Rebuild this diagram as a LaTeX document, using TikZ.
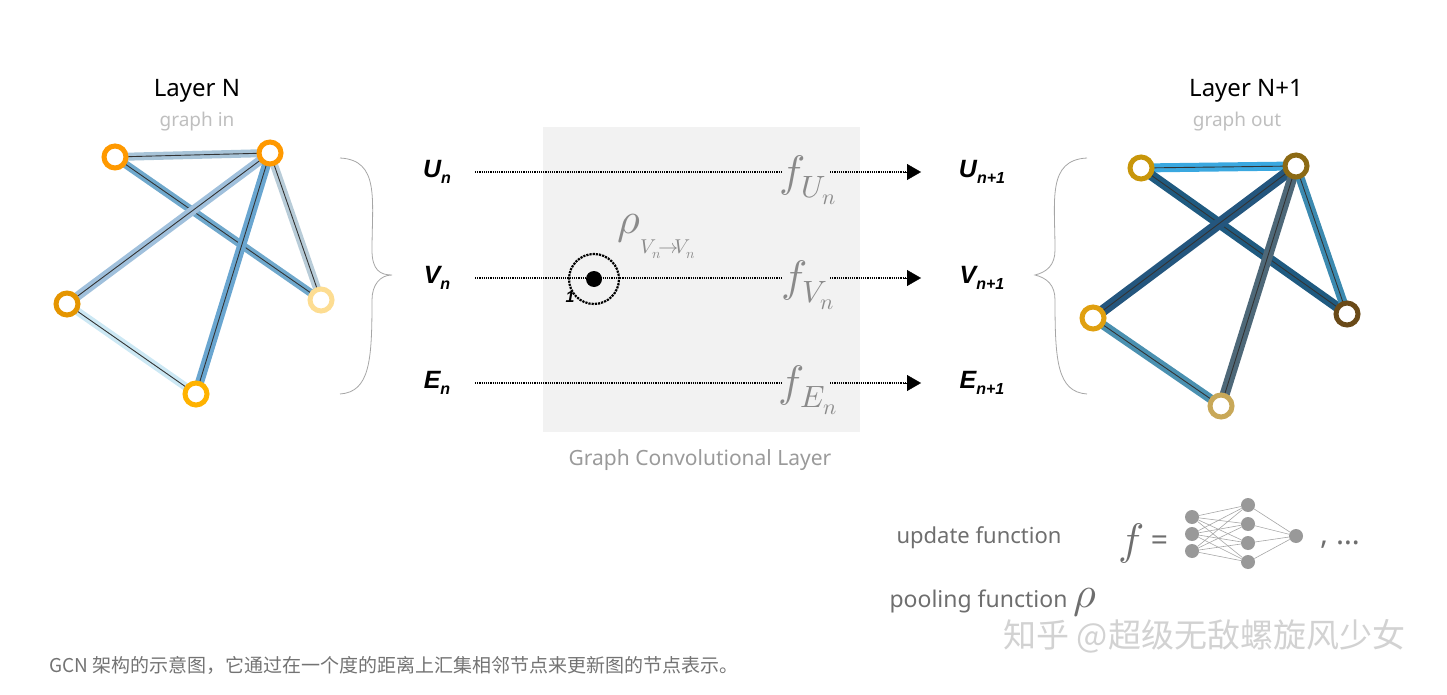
\documentclass[tikz,border=0pt]{standalone}
\usepackage{fontspec}
\usepackage{unicode-math}
\setmathfont{Latin Modern Math}
\setmainfont{Noto Sans}
\newfontfamily\cjk{Noto Sans CJK SC}
\newfontfamily\lsans{Liberation Sans}
\usetikzlibrary{arrows.meta}
\definecolor{gtxt}{HTML}{9A9A9A}
\definecolor{ftxt}{HTML}{8A8A8A}
\newcommand{\lbl}[2]{#1\raisebox{-6pt}{\fontsize{16}{16}\selectfont #2}}
\begin{document}
\begin{tikzpicture}[x=1pt,y=-1pt,
  gnode/.style={circle,draw=#1,line width=5pt,fill=white,minimum size=22pt,inner sep=0},
  thin/.style={line width=0.9pt,draw=black!80},
  dotl/.style={densely dotted,line width=1.2pt},
  tri/.style={-{Triangle[length=14pt,width=16pt]}},
  lab/.style={font=\lsans\fontsize{25}{26}\selectfont\bfseries\itshape},
  ff/.style={text=ftxt,font=\fontsize{44}{44}\selectfont},
  nn/.style={circle,fill=gray!80,minimum size=14pt,inner sep=0}]
\useasboundingbox (0,0) rectangle (1447,695);
\fill[black!5] (543,127) rectangle (860,432);
\node[text=gtxt,font=\fontsize{21}{22}\selectfont] (gcl) at (700,460) {Graph Convolutional Layer};
% left graph
\coordinate (la) at (115,157); \coordinate (lb) at (270,153); \coordinate (lc) at (67,304);
\coordinate (ld) at (196,394); \coordinate (le) at (321,300);
\foreach \p/\q/\c/\w in {la/lb/A8C4D8/8,la/le/6FA8CC/8,lb/lc/A0C0DC/9,lb/ld/6AA6D0/9,lb/le/B8CCD8/8,lc/ld/CCE8F4/8}
  {\definecolor{ec}{HTML}{\c}\draw[line width=\w pt,draw=ec] (\p)--(\q); \draw[thin] (\p)--(\q);}
\node[gnode={orange!80!yellow}] (LA) at (la) {};
\node[gnode={orange!80!yellow}] (LB) at (lb) {};
\node[gnode={orange!70!yellow!90!black}] (LC) at (lc) {};
\node[gnode={orange!60!yellow}] (LD) at (ld) {};
\node[gnode={yellow!40!orange!40}] (LE) at (le) {};
\node[font=\fontsize{24}{26}\selectfont] (ln) at (197,91) {Layer N};
\node[text=gray!50,font=\fontsize{19}{20}\selectfont] (gi) at (197,122) {graph in};
% right graph
\coordinate (ra) at (1141,168); \coordinate (rb) at (1296,166); \coordinate (rc) at (1093,318);
\coordinate (rd) at (1221,406); \coordinate (re) at (1347,314);
\foreach \p/\q/\c/\w in {ra/rb/3AA8E0/9,ra/re/1F5A80/10,rb/rc/24567E/11,rb/rd/4E6878/10,rb/re/3C8AB0/9,rc/rd/4A90B0/9}
  {\definecolor{ec}{HTML}{\c}\draw[line width=\w pt,draw=ec] (\p)--(\q); \draw[thin] (\p)--(\q);}
\definecolor{n1}{HTML}{C8960A}\definecolor{n2}{HTML}{8C6A14}\definecolor{n3}{HTML}{E0A010}
\definecolor{n4}{HTML}{C8A858}\definecolor{n5}{HTML}{6A4A18}
\node[gnode=n1] (RA) at (ra) {};
\node[gnode=n2] (RB) at (rb) {};
\node[gnode=n3] (RC) at (rc) {};
\node[gnode=n4] (RD) at (rd) {};
\node[gnode=n5] (RE) at (re) {};
\node[font=\fontsize{24}{26}\selectfont] (ln1) at (1246,91) {Layer N+1};
\node[text=gray!50,font=\fontsize{19}{20}\selectfont] (go) at (1237,122) {graph out};
% braces
\draw[gray!70,line width=0.8pt] (340,158) .. controls (380,160) and (372,200) .. (372,250) .. controls (372,270) and (380,275) .. (392,275)
  .. controls (380,275) and (372,285) .. (372,300) .. controls (372,360) and (370,392) .. (340,394);
\draw[gray!70,line width=0.8pt] (1087,158) .. controls (1047,160) and (1055,200) .. (1055,250) .. controls (1055,265) and (1047,272) .. (1035,275)
  .. controls (1047,278) and (1055,285) .. (1055,300) .. controls (1055,360) and (1057,392) .. (1087,394);
% labels
\node[lab] (U) at (437,172) {\lbl{U}{n}};
\node[lab] (V) at (437,278) {\lbl{V}{n}};
\node[lab] (E) at (437,383) {\lbl{E}{n}};
\node[lab] (U1) at (982,172) {\lbl{U}{n+1}};
\node[lab] (V1) at (982,278) {\lbl{V}{n+1}};
\node[lab] (E1) at (982,383) {\lbl{E}{n+1}};
\node[ff] (fU) at (808,180) {$f_{U_n}$};
\node[ff] (fV) at (808,285) {$f_{V_n}$};
\node[ff] (fE) at (808,390) {$f_{E_n}$};
\foreach \a in {U,V,E} \draw[dotl] (475,0 |- \a) -- (782,0 |- \a);
\foreach \a in {U1,V1,E1} {\draw[dotl] (830,0 |- \a) -- (905,0 |- \a); \draw[tri] (903,0 |- \a) -- (921,0 |- \a);}
% pooling
\node[circle,fill=black,minimum size=16pt,inner sep=0] (pd) at (594,279) {};
\draw[densely dotted,line width=2.2pt] (pd) circle (25pt);
\node[font=\lsans\bfseries\itshape\fontsize{16}{16}\selectfont] (one) at (570,297) {1};
\node[ff,anchor=west] (rho) at (614,236) {$\rho$\raisebox{-20pt}{\fontsize{20}{20}\selectfont$V_{n}{\mkern-3mu\to\mkern-3mu}V_{n}$}};
% legend
\node[text=ftxt!80!black,font=\fontsize{22}{24}\selectfont,anchor=west] (uf) at (893,538) {update function};
\node[text=ftxt!80!black,font=\fontsize{44}{44}\selectfont] (feq) at (1143,543) {$f\,$\raisebox{4pt}{\fontsize{30}{30}\selectfont\textbf{=}}};
\foreach \i/\y in {1/517,2/534,3/551} \node[nn] (i\i) at (1192,\y) {};
\foreach \i/\y in {1/505,2/524,3/543,4/562} \node[nn] (h\i) at (1248,\y) {};
\node[nn] (o) at (1296,536) {};
\foreach \i in {1,2,3} \foreach \j in {1,2,3,4} \draw[gray!70,line width=0.6pt] (i\i)--(h\j);
\foreach \j in {1,2,3,4} \draw[gray!70,line width=0.6pt] (h\j)--(o);
\node[text=ftxt!80!black,font=\fontsize{30}{30}\selectfont] (dots) at (1340,545) {, \dots};
\node[text=ftxt!80!black,font=\fontsize{23}{24}\selectfont,anchor=west] (pf) at (886,603) {pooling function {\fontsize{44}{44}\selectfont$\rho$}};
% watermark and caption
\node[text=gray!35,font=\cjk\fontsize{33}{34}\selectfont,anchor=west] (wm) at (1000,636) {知乎 @超级无敌螺旋风少女};
\node[text=gray!90!black,font=\cjk\fontsize{19}{20}\selectfont,anchor=west] (cap) at (46,665) {GCN 架构的示意图，它通过在一个度的距离上汇集相邻节点来更新图的节点表示。};
\end{tikzpicture}
\end{document}
